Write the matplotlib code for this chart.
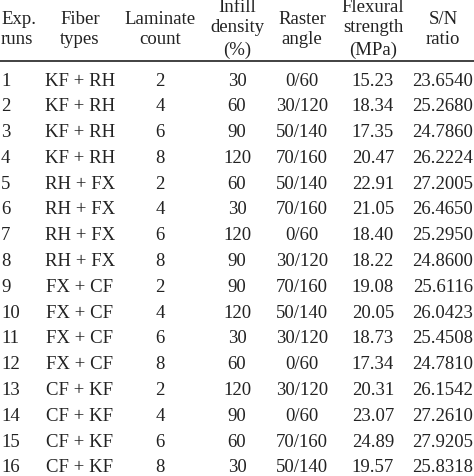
import matplotlib
matplotlib.use("Agg")
import matplotlib.pyplot as plt

headers = [["Exp.", "runs"], ["Fiber", "types"], ["Laminate", "count"],
           ["Infill", "density", "(%)"], ["Raster", "angle"],
           ["Flexural", "strength", "(MPa)"], ["S/N", "ratio"]]
runs = [str(i) for i in range(1, 17)]
fibers = ["KF + RH"]*4 + ["RH + FX"]*4 + ["FX + CF"]*4 + ["CF + KF"]*4
laminate = [2, 4, 6, 8, 2, 4, 6, 8, 2, 4, 6, 8, 2, 4, 6, 8]
infill = [30, 60, 90, 120, 60, 30, 120, 90, 90, 120, 30, 60, 120, 90, 60, 30]
raster = ["0/60", "30/120", "50/140", "70/160", "50/140", "70/160", "0/60", "30/120",
          "70/160", "50/140", "30/120", "0/60", "30/120", "0/60", "70/160", "50/140"]
strength = ["15.23", "18.34", "17.35", "20.47", "22.91", "21.05", "18.40", "18.22",
            "19.08", "20.05", "18.73", "17.34", "20.31", "23.07", "24.89", "19.57"]
sn = ["23.6540", "25.2680", "24.7860", "26.2224", "27.2005", "26.4650", "25.2950", "24.8600",
      "25.6116", "26.0423", "25.4508", "24.7810", "26.1542", "27.2610", "27.9205", "25.8318"]

W, H = 474, 477
fig = plt.figure(figsize=(W/100, H/100), dpi=100)
ax = fig.add_axes([0, 0, 1, 1])
ax.set_xlim(0, W); ax.set_ylim(H, 0); ax.axis("off")
fp = dict(family="Liberation Serif", fontsize=13.5, color="#222222")

xs = [1, 80, 160, 237, 302, 373, 443]
aligns = ["left"] + ["center"]*6
for x, al, h in zip(xs, aligns, headers):
    n = len(h)
    ys = [19, 40] if n == 2 else [7, 28, 50]
    for y, t in zip(ys, h):
        ax.text(x, y, t, ha=al, va="center", **fp)
ax.plot([0, W], [62, 62], color="#333333", lw=1.3)

cols = [runs, fibers, [str(v) for v in laminate], [str(v) for v in infill], raster, strength, sn]
for i in range(16):
    y = 81 + i*25.8
    for x, al, col in zip(xs, aligns, cols):
        ax.text(x, y, col[i], ha=al, va="center", **fp)

fig.savefig("out.png", dpi=100, facecolor="white")
